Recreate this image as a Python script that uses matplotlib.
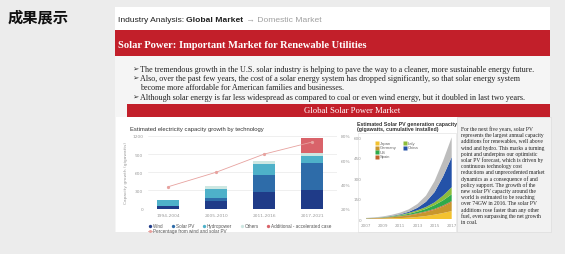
import matplotlib.pyplot as plt
from matplotlib.patches import Rectangle
from matplotlib.ticker import FuncFormatter
import numpy as np

W, H = 565, 255

# left chart: estimated electricity capacity growth by technology (GW)
periods = ["1994-2004", "2005-2010", "2011-2016", "2017-2021"]
wind = [35, 125, 270, 308]
solar_pv = [8, 45, 277, 442]
hydro = [92, 160, 195, 125]
others = [5, 35, 50, 50]
additional = [0, 0, 0, 245]
pct_wind_solar = [38, 50, 65, 75]

# middle chart: cumulative solar PV capacity (GW)
pv_years = [2007, 2008, 2009, 2010, 2011, 2012, 2013, 2014, 2015, 2016, 2017]
japan = [3, 4, 5, 7, 9, 12, 17, 24, 34, 46, 60]
germany = [2, 3, 5, 8, 12, 16, 22, 28, 36, 48, 65]
spain = [1, 2, 2, 3, 3, 4, 5, 6, 6, 7, 8]
us = [1, 1, 2, 3, 5, 8, 12, 18, 28, 38, 50]
italy = [0.5, 0.5, 1, 2, 4, 7, 10, 14, 20, 35, 52]
china = [0.5, 0.5, 1, 2, 4, 8, 18, 38, 75, 140, 220]
rest = [2, 3, 5, 8, 12, 18, 28, 45, 80, 115, 145]

bullets = [
    "The tremendous growth in the U.S. solar industry is helping to pave the way to a cleaner, more sustainable energy future.",
    "Also, over the past few years, the cost of a solar energy system has dropped significantly, so that solar energy system",
    "become more affordable for American families and businesses.",
    "Although solar energy is far less widespread as compared to coal or even wind energy, but it doubled in last two years.",
]
side_text = [
    "For the next five years, solar PV",
    "represents the largest annual capacity",
    "additions for renewables, well above",
    "wind and hydro. This marks a turning",
    "point and underpins our optimistic",
    "solar PV forecast, which is driven by",
    "continuous technology cost",
    "reductions and unprecedented market",
    "dynamics as a consequence of and",
    "policy support. The growth of the",
    "new solar PV capacity around the",
    "world is estimated to be reaching",
    "over 74GW in 2016. The solar PV",
    "additions rose faster than any other",
    "fuel, even surpassing the net growth",
    "in coal.",
]

RED = "#c21f2a"
SANS = ["Liberation Sans", "DejaVu Sans"]
SERIF = ["Liberation Serif", "DejaVu Sans"]
bar_colors = ["#1f3b88", "#2e6ca9", "#4eb1c9", "#cde7e2", "#d9636a"]
bar_names = ["Wind", "Solar PV", "Hydropower", "Others", "Additional - accelerated case"]
pv_colors = ["#f3c230", "#c8962c", "#c2622b", "#2faa4b", "#8dbd3b", "#2452a8", "#bdbdbd"]

fig = plt.figure(figsize=(W / 100, H / 100), dpi=100)
fig.patch.set_facecolor("#ececec")

bg = fig.add_axes([0, 0, 1, 1])
bg.set_xlim(0, W)
bg.set_ylim(H, 0)
bg.axis("off")


def box(x0, y0, x1, y1, fc, ec="none", lw=0):
    bg.add_patch(Rectangle((x0, y0), x1 - x0, y1 - y0, facecolor=fc, edgecolor=ec, lw=lw))


def px_axes(x0, y0, x1, y1):
    return fig.add_axes([x0 / W, 1 - y1 / H, (x1 - x0) / W, (y1 - y0) / H])


# page heading
bg.text(8, 17, "成果展示", fontsize=11, fontweight="bold", color="#111111",
        family=["Noto Sans CJK SC", "DejaVu Sans"], va="center", ha="left")

# slide frame
box(115, 8, 550, 31, "white")
box(115, 31, 550, 57, RED)
box(115, 57, 550, 233, "#f5f5f5")
box(116, 118, 355, 233, "white")
box(355, 118, 457, 233, "white")
box(457, 118, 551, 233, "#f2f2f2", ec="#d8d8d8", lw=0.4)
box(127, 105, 550, 118, RED)

t1 = bg.text(118, 20, "Industry Analysis: ", fontsize=6.1, color="#222222", family=SANS,
             va="center", ha="left")
t2 = bg.annotate("Global Market", xy=(1, 0), xycoords=t1, fontsize=6.1, fontweight="bold",
                 color="#222222", family=SANS, va="bottom", ha="left")
bg.annotate(" \u2192 Domestic Market", xy=(1, 0), xycoords=t2, fontsize=6.1, color="#a0a0a0",
            family=SANS, va="bottom", ha="left")

bg.text(118, 46, "Solar Power: Important Market for Renewable Utilities", fontsize=7.6,
        fontweight="bold", color="white", family=SERIF, va="center", ha="left")

bullet_y = [70, 79, 88.3, 97.7]
for i, (line, y) in enumerate(zip(bullets, bullet_y)):
    if i != 2:
        bg.text(132, y, "\u27a2", fontsize=5.4, color="#222222", family=["DejaVu Sans"],
                va="center", ha="left")
    bg.text(140, y, line, fontsize=5.9, color="#222222", family=SERIF, va="center", ha="left")

bg.text(352, 111.5, "Global Solar Power Market", fontsize=6.2, color="white", family=SERIF,
        va="center", ha="center")

# left chart
bg.text(130, 130, "Estimated electricity capacity growth by technology", fontsize=4.2,
        color="#333333", family=SANS, va="center", ha="left")
ax1 = px_axes(148, 137, 337, 209.5)
ax1.set_facecolor("none")
x = np.arange(len(periods))
bottom = np.zeros(len(periods))
for vals, col in zip([wind, solar_pv, hydro, others, additional], bar_colors):
    ax1.bar(x, vals, 0.46, bottom=bottom, color=col, lw=0, zorder=2)
    bottom += np.array(vals)
ax1.set_xlim(-0.42, 3.52)
ax1.set_ylim(0, 1200)
ax1.set_yticks([0, 300, 600, 900, 1200])
ax1.set_xticks(x)
ax1.set_xticklabels(periods)
ax1.yaxis.grid(True, color="#e4e4e4", lw=0.4)
ax1.set_axisbelow(True)
ax1.tick_params(length=0, labelsize=3.2, colors="#9a9a9a", pad=3.5)
ax1.set_ylabel("Capacity growth (gigawatts)", fontsize=3.2, color="#9a9a9a", labelpad=3)
for s in ax1.spines.values():
    s.set_visible(False)

ax2 = ax1.twinx()
ax2.plot(x, pct_wind_solar, color="#e7a29f", lw=0.6, marker="o", ms=1.3, zorder=3)
ax2.set_ylim(20, 80)
ax2.set_yticks([20, 40, 60, 80])
ax2.yaxis.set_major_formatter(FuncFormatter(lambda v, p: f"{v:.0f}%"))
ax2.tick_params(length=0, labelsize=3.2, colors="#9a9a9a", pad=3)
for s in ax2.spines.values():
    s.set_visible(False)

# left chart legend
leg_x = [150, 173, 204, 242, 268]
for lx, col, name in zip(leg_x, bar_colors, bar_names):
    bg.plot(lx, 226.5, marker="o", ms=2.4, color=col, mec="none")
    bg.text(lx + 3, 226.5, name, fontsize=3.3, color="#555555", family=SANS,
            va="center", ha="left")
bg.plot([148, 152], [231.5, 231.5], color="#e7a29f", lw=0.6)
bg.plot(150, 231.5, marker="o", ms=1.2, color="#e7a29f")
bg.text(153, 231.5, "Percentage from wind and solar PV", fontsize=3.3, color="#555555",
        family=SANS, va="center", ha="left")

# middle chart
bg.text(357, 124.5, "Estimated Solar PV generation capacity", fontsize=3.8,
        fontweight="bold", color="#333333", family=SANS, va="center", ha="left")
bg.text(357, 129.5, "(gigawatts, cumulative installed)", fontsize=3.8,
        fontweight="bold", color="#333333", family=SANS, va="center", ha="left")
box(358, 134, 456, 233, "none", ec="#dddddd", lw=0.4)
ax3 = px_axes(366, 138.3, 451.7, 220.3)
ax3.set_facecolor("none")
ax3.stackplot(pv_years, japan, germany, spain, us, italy, china, rest,
              colors=pv_colors, lw=0)
ax3.set_xlim(2007, 2017)
ax3.set_ylim(0, 600)
ax3.set_xticks([2007, 2009, 2011, 2013, 2015, 2017])
ax3.set_yticks([0, 150, 300, 450, 600])
ax3.tick_params(length=0, labelsize=3.0, colors="#9a9a9a", pad=3)
for s in ax3.spines.values():
    s.set_visible(False)

pv_legend = [("Japan", 377, 144.3), ("Germany", 377, 148.5), ("US", 377, 153),
             ("Spain", 377, 157.5), ("Italy", 405, 144.3), ("China", 405, 148.5)]
pv_leg_colors = [pv_colors[0], pv_colors[1], pv_colors[3], pv_colors[2], pv_colors[4], pv_colors[5]]
for (name, lx, ly), col in zip(pv_legend, pv_leg_colors):
    bg.plot(lx, ly, marker="s", ms=2.3, color=col, mec="none")
    bg.text(lx + 3, ly, name, fontsize=3.0, color="#666666", family=SANS,
            va="center", ha="left")

# side text
for i, line in enumerate(side_text):
    bg.text(461, 129.5 + i * 6.2, line, fontsize=4.0, color="#222222", family=SERIF,
            va="center", ha="left")

fig.savefig("out.png", dpi=100, facecolor=fig.get_facecolor())
